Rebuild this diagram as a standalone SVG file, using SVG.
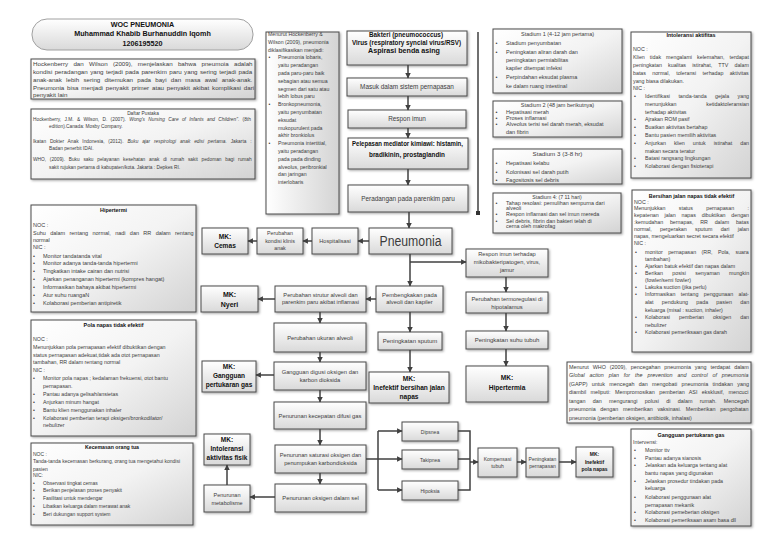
<svg xmlns="http://www.w3.org/2000/svg" width="768" height="544" viewBox="0 0 768 544">
<defs>
<linearGradient id="gv" x1="0" y1="0" x2="0" y2="1"><stop offset="0" stop-color="#ffffff"/><stop offset="1" stop-color="#d9d9d9"/></linearGradient>
<linearGradient id="gd" x1="0" y1="0" x2="1" y2="1"><stop offset="0" stop-color="#ffffff"/><stop offset="0.5" stop-color="#f3f3f3"/><stop offset="1" stop-color="#d3d3d3"/></linearGradient>
<linearGradient id="gh" x1="0" y1="0" x2="1" y2="0"><stop offset="0" stop-color="#ffffff"/><stop offset="1" stop-color="#d4d4d4"/></linearGradient>
<filter id="sh" x="-10%" y="-10%" width="130%" height="130%"><feDropShadow dx="1.2" dy="1.2" stdDeviation="0.8" flood-color="#000" flood-opacity="0.35"/></filter>
<marker id="ah" viewBox="0 0 10 10" refX="9" refY="5" markerWidth="5.5" markerHeight="5.5" markerUnits="userSpaceOnUse" orient="auto"><path d="M0,0L10,5L0,10z" fill="#404040"/></marker>
</defs>
<style>
.b{fill:url(#gv);stroke:#4a4a4a;stroke-width:1;filter:url(#sh)}
.p{fill:url(#gd);stroke:#4a4a4a;stroke-width:1;filter:url(#sh)}
.t{font-family:"Liberation Sans",Arial,sans-serif;fill:#3c3c3c}
.c{text-anchor:middle}
.e{text-anchor:end}
.k{font-weight:bold;fill:#111}
.i{font-style:italic}
.cn path{fill:none;stroke:#404040;stroke-width:1.5}
.a{marker-end:url(#ah)}
</style>
<rect width="768" height="544" fill="#ffffff"/>

<g id="title">
<rect x="32" y="19" width="221" height="31" rx="15" fill="url(#gv)" stroke="#a0a0a0" stroke-width="1"/>
<text class="t c k" font-size="7.2" x="142.5" y="26.5">WOC PNEUMONIA</text>
<text class="t c k" font-size="7.2" x="142.5" y="36">Muhammad Khabib Burhanuddin Iqomh</text>
<text class="t c k" font-size="7.2" x="142.5" y="45.5">1206195520</text>
</g>

<g id="definisi">
<rect class="p" x="31" y="59" width="224" height="40"/>
<text class="t" font-size="6.2" x="33" y="65.5" word-spacing="3.6">Hockenberry dan Wilson (2009), menjelaskan bahwa pneumoia adalah</text>
<text class="t" font-size="6.2" x="33" y="73.5" word-spacing="0.7">kondisi peradangan yang terjadi pada parenkim paru yang sering terjadi pada</text>
<text class="t" font-size="6.2" x="33" y="81.5" word-spacing="2.5">anak-anak lebih sering ditemukan pada bayi dan masa awal anak-anak.</text>
<text class="t" font-size="6.2" x="33" y="89.5" word-spacing="1.1">Pneumonia bisa menjadi penyakit primer atau penyakit akibat komplikasi dari</text>
<text class="t" font-size="6.2" x="33" y="97">penyakit lain</text>
</g>

<g id="pustaka">
<rect class="p" x="31" y="109" width="224" height="70"/>
<text class="t c" font-size="4.8" x="143" y="115">Daftar Pustaka</text>
<text class="t" font-size="4.8" x="33" y="121" word-spacing="2">Hockenberry, J.M. &amp; Wilson, D. (2007). <tspan class="i">Wong's Nursing Care of Infants and Children".</tspan> (8th</text>
<text class="t" font-size="4.8" x="49" y="128">edition).Canada: Mosby Company.</text>
<text class="t" font-size="4.8" x="33" y="143" word-spacing="2.5">Ikatan Dokter Anak Indonesia, (2012). <tspan class="i">Buku ajar respirologi anak edisi pertama.</tspan> Jakarta :</text>
<text class="t" font-size="4.8" x="49" y="149.5">Badan penerbit IDAI.</text>
<text class="t" font-size="4.8" x="33" y="161" word-spacing="2.4">WHO, (2009). Buku saku pelayanan kesehatan anak di rumah sakit pedoman bagi rumah</text>
<text class="t" font-size="4.8" x="49" y="168.5">sakit rujukan pertama di kabupaten/kota. Jakarta : Depkes RI.</text>
</g>

<g id="klasifikasi">
<rect x="266" y="32" width="73" height="182" fill="url(#gh)" stroke="#4a4a4a" stroke-width="1" filter="url(#sh)"/>
<text class="t" font-size="5.2">
<tspan x="268" y="36">Menurut Hockenberry &amp;</tspan>
<tspan x="268" y="43.8">Wilson (2009), pneumonia</tspan>
<tspan x="268" y="51.6">diklasifikasikan menjadi:</tspan>
<tspan x="268.5" y="59.4">•</tspan><tspan x="278" y="59.4">Pneumonia lobaris,</tspan>
<tspan x="278" y="67.2">yaitu peradangan</tspan>
<tspan x="278" y="75">pada paru-paru baik</tspan>
<tspan x="278" y="82.8">sebagian atau semua</tspan>
<tspan x="278" y="90.6">segmen dari satu atau</tspan>
<tspan x="278" y="98.4">lebih lobus paru</tspan>
<tspan x="268.5" y="106.2">•</tspan><tspan x="278" y="106.2">Bronkopneumonia,</tspan>
<tspan x="278" y="114">yaitu penyumbatan</tspan>
<tspan x="278" y="121.8">eksudat</tspan>
<tspan x="278" y="129.6">mukopurulent pada</tspan>
<tspan x="278" y="137.4">akhir bronkiolus</tspan>
<tspan x="268.5" y="145.2">•</tspan><tspan x="278" y="145.2">Pneumonia intertitial,</tspan>
<tspan x="278" y="153">yaitu peradangan</tspan>
<tspan x="278" y="160.8">pada pada dinding</tspan>
<tspan x="278" y="168.6">alveolus, peribronkial</tspan>
<tspan x="278" y="176.4">dan jaringan</tspan>
<tspan x="278" y="184.2">interlobaris</tspan>
</text>
</g>

<g id="n-bakteri">
<rect class="b" x="347" y="31" width="120" height="34"/>
<text class="t k" font-size="6.3" x="369" y="37" textLength="74" lengthAdjust="spacingAndGlyphs">Bakteri (pneumococcus)</text>
<text class="t k" font-size="6.3" x="352" y="45" textLength="109" lengthAdjust="spacingAndGlyphs">Virus (respiratory syncial virus/RSV)</text>
<text class="t k" font-size="6.3" x="368" y="52.5" textLength="72" lengthAdjust="spacingAndGlyphs">Aspirasi benda asing</text>
</g>
<g id="n-masuk">
<rect class="b" x="347" y="78" width="120" height="18"/>
<text class="t c" font-size="6.4" x="407" y="89.3">Masuk dalam sistem pernapasan</text>
</g>
<g id="n-respon">
<rect class="b" x="348" y="110" width="118" height="18"/>
<text class="t c" font-size="6.4" x="407" y="121.3">Respon imun</text>
</g>
<g id="n-pelepasan">
<rect class="b" x="348" y="138" width="120" height="31"/>
<text class="t k" font-size="6.5" x="352" y="145.5" textLength="111" lengthAdjust="spacingAndGlyphs">Pelepasan mediator kimiawi: histamin,</text>
<text class="t k" font-size="6.5" x="369" y="156.5" textLength="76" lengthAdjust="spacingAndGlyphs">bradikinin, prostaglandin</text>
</g>
<g id="n-peradangan">
<rect class="b" x="348" y="185" width="120" height="27"/>
<text class="t c" font-size="6.4" x="408" y="200.5">Peradangan pada parenkim paru</text>
</g>
<g id="divider">
<path d="M478,32V212" fill="none" stroke="#404040" stroke-width="1.5"/>
<rect x="476" y="211" width="4" height="4" fill="#333"/>
</g>
<g id="n-pneumonia">
<rect class="b" x="369" y="228" width="83" height="26"/>
<text class="t" font-size="14" x="379.5" y="246" textLength="62" lengthAdjust="spacingAndGlyphs" fill="#222">Pneumonia</text>
</g>
<g id="n-hospitalisasi">
<rect class="b" x="312" y="228" width="46" height="26"/>
<text class="t c" font-size="5.6" x="335" y="243">Hospitalisasi</text>
</g>
<g id="n-kondisi">
<rect class="b" x="257" y="228" width="46" height="26"/>
<text class="t c" font-size="5.3" x="280" y="235">Perubahan</text>
<text class="t c" font-size="5.3" x="280" y="242.5">kondisi klinis</text>
<text class="t c" font-size="5.3" x="280" y="250">anak</text>
</g>
<g id="mk-cemas">
<rect class="b" x="202" y="228" width="46" height="26"/>
<text class="t c k" font-size="6.6" x="225" y="239">MK:</text>
<text class="t c k" font-size="6.6" x="225" y="248">Cemas</text>
</g>
<g id="n-respon-imun-terhadap">
<rect class="b" x="466" y="249" width="82" height="28"/>
<text class="t c" font-size="5.7" x="507" y="256">Respon imun terhadap</text>
<text class="t c" font-size="5.7" x="507" y="263.5">mikobakteripatogen, virus,</text>
<text class="t c" font-size="5.7" x="507" y="271.5">jamur</text>
</g>
<g id="n-termoregulasi">
<rect class="b" x="466" y="292" width="82" height="21"/>
<text class="t c" font-size="5.8" x="507" y="301">Perubahan termoregulasi di</text>
<text class="t c" font-size="5.8" x="507" y="308.5">hipotalamus</text>
</g>
<g id="n-suhu">
<rect class="b" x="466" y="331" width="82" height="18"/>
<text class="t c" font-size="6" x="507" y="342">Peningkatan suhu tubuh</text>
</g>
<g id="mk-hipertermia">
<rect class="b" x="466" y="366" width="82" height="36"/>
<text class="t c k" font-size="6.6" x="507" y="380">MK:</text>
<text class="t c k" font-size="6.6" x="507" y="389.5">Hipertermia</text>
</g>
<g id="n-pembengkakan">
<rect class="b" x="376" y="286" width="67" height="26"/>
<text class="t c" font-size="5.8" x="409.5" y="296.5">Pembengkakan pada</text>
<text class="t c" font-size="5.8" x="409.5" y="304">alveoli dan kapiler</text>
</g>
<g id="n-strutur">
<rect class="b" x="275" y="286" width="91" height="26"/>
<text class="t c" font-size="5.7" x="320.5" y="296.5">Perubahan strutur alveoli dan</text>
<text class="t c" font-size="5.7" x="320.5" y="304">parenkim paru akibat inflamasi</text>
</g>
<g id="mk-nyeri">
<rect class="b" x="201" y="286" width="57" height="26"/>
<text class="t c k" font-size="7" x="229.5" y="297">MK:</text>
<text class="t c k" font-size="7" x="229.5" y="306.5">Nyeri</text>
</g>
<g id="n-ukuran">
<rect class="b" x="274" y="323" width="92" height="29"/>
<text class="t c" font-size="5.8" x="320" y="339.5">Perubahan ukuran alveoli</text>
</g>
<g id="n-difusi">
<rect class="b" x="274" y="362" width="92" height="28"/>
<text class="t c" font-size="5.8" x="320" y="374">Gangguan digusi oksigen dan</text>
<text class="t c" font-size="5.8" x="320" y="381.5">karbon dioksida</text>
</g>
<g id="mk-gangguan">
<rect class="b" x="202" y="361" width="54" height="31"/>
<text class="t c k" font-size="6.5" x="229" y="368.5">MK:</text>
<text class="t c k" font-size="6.5" x="229" y="377.5">Gangguan</text>
<text class="t c k" font-size="6.5" x="229" y="386.5">pertukaran gas</text>
</g>
<g id="n-kecepatan">
<rect class="b" x="274" y="402" width="92" height="27"/>
<text class="t c" font-size="5.8" x="320" y="417.5">Penurunan kecepatan difusi gas</text>
</g>
<g id="n-saturasi">
<rect class="b" x="275" y="445" width="91" height="28"/>
<text class="t c" font-size="5.7" x="320.5" y="456.5">Penurunan saturasi oksigen dan</text>
<text class="t c" font-size="5.7" x="320.5" y="464.5">penumpukan karbondioksida</text>
</g>
<g id="n-oksigen-sel">
<rect class="b" x="275" y="484" width="91" height="28"/>
<text class="t c" font-size="5.8" x="320.5" y="500">Penurunan oksigen dalam sel</text>
</g>
<g id="n-metabolisme">
<rect class="b" x="204" y="485" width="46" height="27"/>
<text class="t c" font-size="5.5" x="227" y="496.5">Penurunan</text>
<text class="t c" font-size="5.5" x="227" y="504.5">metabolisme</text>
</g>
<g id="mk-intoleransi">
<rect class="b" x="204" y="434" width="46" height="31"/>
<text class="t c k" font-size="6.5" x="227" y="441.5">MK:</text>
<text class="t c k" font-size="6.5" x="227" y="450.5">Intoleransi</text>
<text class="t c k" font-size="6.5" x="227" y="459.5">aktivitas fisik</text>
</g>
<g id="n-sputum">
<rect class="b" x="378" y="332" width="64" height="18"/>
<text class="t c" font-size="6" x="410" y="343">Peningkatan sputum</text>
</g>
<g id="mk-bersihan">
<rect class="b" x="369" y="372" width="80" height="31"/>
<text class="t c k" font-size="6.6" x="409" y="381">MK:</text>
<text class="t c k" font-size="6.6" x="409" y="390">Inefektif bersihan jalan</text>
<text class="t c k" font-size="6.6" x="409" y="399">napas</text>
</g>
<g id="n-dipsnea">
<rect class="b" x="402" y="422" width="56" height="19"/>
<text class="t c" font-size="5" x="430" y="433.5">Dipsnea</text>
</g>
<g id="n-takipnea">
<rect class="b" x="402" y="450" width="56" height="19"/>
<text class="t c" font-size="5" x="430" y="461.5">Takipnea</text>
</g>
<g id="n-hipoksia">
<rect class="b" x="402" y="481" width="56" height="19"/>
<text class="t c" font-size="5" x="430" y="492.5">Hipoksia</text>
</g>
<g id="n-kompensasi">
<rect class="b" x="478" y="448" width="39" height="29"/>
<text class="t c" font-size="5" x="497.5" y="460.5">Kompensasi</text>
<text class="t c" font-size="5" x="497.5" y="468">tubuh</text>
</g>
<g id="n-pernapasan">
<rect class="b" x="526" y="448" width="33" height="29"/>
<text class="t c" font-size="5" x="542.5" y="460.5">Peningkatan</text>
<text class="t c" font-size="5" x="542.5" y="468">pernapasan</text>
</g>
<g id="mk-pola">
<rect class="b" x="576" y="447" width="37" height="30"/>
<text class="t c k" font-size="5" x="594.5" y="456">MK:</text>
<text class="t c k" font-size="5" x="594.5" y="463.5">Inefektif</text>
<text class="t c k" font-size="5" x="594.5" y="471">pola napas</text>
</g>

<g id="stadium1">
<rect class="p" x="493" y="29" width="129" height="64"/>
<text class="t c" font-size="5.5" x="557.5" y="35.5">Stadium 1 (4-12 jam pertama)</text>
<text class="t" font-size="5.5">
<tspan x="495.5" y="45">•</tspan><tspan x="506" y="45">Stadium penyumbatan</tspan>
<tspan x="495.5" y="54">•</tspan><tspan x="506" y="54">Peningkatan aliran darah dan</tspan>
<tspan x="506" y="62">peningkatan permiabilitas</tspan>
<tspan x="506" y="70">kapiler ditempat infeksi</tspan>
<tspan x="495.5" y="79">•</tspan><tspan x="506" y="79">Perpindahan eksudat plasma</tspan>
<tspan x="506" y="87.5">ke dalam ruang intestinal</tspan>
</text>
</g>
<g id="stadium2">
<rect class="p" x="493" y="101" width="129" height="36"/>
<text class="t c" font-size="5.5" x="557.5" y="107">Stadium 2 (48 jam berikutnya)</text>
<text class="t" font-size="5.5">
<tspan x="495.5" y="114">•</tspan><tspan x="506" y="114">Hepatisasi merah</tspan>
<tspan x="495.5" y="119.5">•</tspan><tspan x="506" y="119.5">Proses inflamasi</tspan>
<tspan x="495.5" y="126">•</tspan><tspan x="506" y="126">Alveolus terisi sel darah merah, eksudat</tspan>
<tspan x="506" y="133.5">dan fibrin</tspan>
</text>
</g>
<g id="stadium3">
<rect class="p" x="493" y="149" width="129" height="35"/>
<text class="t c" font-size="6.2" x="557.5" y="156">Stadium 3 (3-8 hr)</text>
<text class="t" font-size="5.5">
<tspan x="495.5" y="165">•</tspan><tspan x="506" y="165">Hepatisasi kelabu</tspan>
<tspan x="495.5" y="174">•</tspan><tspan x="506" y="174">Kolonisasi sel darah putih</tspan>
<tspan x="495.5" y="181.5">•</tspan><tspan x="506" y="181.5">Fagositosis sel debris</tspan>
</text>
</g>
<g id="stadium4">
<rect class="p" x="493" y="193" width="128" height="40"/>
<text class="t c" font-size="5.2" x="557" y="198.5">Stadium 4: (7 11 hari)</text>
<text class="t" font-size="5.4">
<tspan x="495.5" y="204.5">•</tspan><tspan x="506" y="204.5">Tahap resolasi: pemulihan sempurna dari</tspan>
<tspan x="506" y="209.5">alveoli</tspan>
<tspan x="495.5" y="216">•</tspan><tspan x="506" y="216">Respon inflamasi dan sel imun mereda</tspan>
<tspan x="495.5" y="222.5">•</tspan><tspan x="506" y="222.5">Sel debris, fibrin dan bakteri telah di</tspan>
<tspan x="506" y="227.5">cerna oleh makrofag</tspan>
</text>
</g>

<g id="intoleransi">
<rect class="p" x="631" y="32" width="120" height="146"/>
<text class="t c k" font-size="5.4" x="691" y="37">Intoleransi aktifitas</text>
<text class="t" font-size="5.3" x="633" y="51">NOC :</text>
<text class="t" font-size="5.3" x="633" y="59" word-spacing="3.6">Klien tidak mengalami kelemahan, terdapat</text>
<text class="t" font-size="5.3" x="633" y="67" word-spacing="4.7">peningkatan kualitas istirahat, TTV dalam</text>
<text class="t" font-size="5.3" x="633" y="75" word-spacing="4.8">batas normal, toleransi terhadap aktivitas</text>
<text class="t" font-size="5.3" x="633" y="82.5">yang biasa dilakukan.</text>
<text class="t" font-size="5.3" x="633" y="89.5">NIC :</text>
<text class="t" font-size="5.3"><tspan x="634" y="98">•</tspan><tspan x="634" y="121">•</tspan><tspan x="634" y="129">•</tspan><tspan x="634" y="137">•</tspan><tspan x="634" y="145">•</tspan><tspan x="634" y="160">•</tspan><tspan x="634" y="168">•</tspan></text>
<text class="t" font-size="5.3" x="645" y="98" word-spacing="6.9">Identifikasi tanda-tanda gejala yang</text>
<text class="t" font-size="5.3" x="645" y="106">menunjukkan</text>
<text class="t e" font-size="5.3" x="749" y="106">ketidaktoleransian</text>
<text class="t" font-size="5.3" x="645" y="114">terhadap aktivitas</text>
<text class="t" font-size="5.3" x="645" y="121">Ajrakan ROM pasif</text>
<text class="t" font-size="5.3" x="645" y="129">Buatkan aktivitas bertahap</text>
<text class="t" font-size="5.3" x="645" y="137">Bantu pasien memilih aktivitas</text>
<text class="t" font-size="5.3" x="645" y="145" word-spacing="6.5">Anjurkan klien untuk istirahat dan</text>
<text class="t" font-size="5.3" x="645" y="153">makan secara teratur</text>
<text class="t" font-size="5.3" x="645" y="160">Batasi rangsang lingkungan</text>
<text class="t" font-size="5.3" x="645" y="168">Kolaborasi dengan fisioterapi</text>
</g>

<g id="bersihan">
<rect class="p" x="632" y="190" width="119" height="162"/>
<text class="t c k" font-size="5.4" x="691.5" y="198">Bersihan jalan napas tidak efektif</text>
<text class="t" font-size="5.3" x="634" y="203.5">NOC :</text>
<text class="t" font-size="5.3" x="634" y="210" word-spacing="11.8">Menunjukkan status pernapasan :</text>
<text class="t" font-size="5.3" x="634" y="217" word-spacing="4.3">kepatenan jalan napas dibuktikan dengan</text>
<text class="t" font-size="5.3" x="634" y="224" word-spacing="5.3">:kemudahan bernapas, RR dalam batas</text>
<text class="t" font-size="5.3" x="634" y="231" word-spacing="6.8">normal, pergerakan sputum dari jalan</text>
<text class="t" font-size="5.3" x="634" y="238">napas, mengeluarkan secret secara efektif</text>
<text class="t" font-size="5.3" x="634" y="245">NIC :</text>
<text class="t" font-size="5.3"><tspan x="635" y="253.5">•</tspan><tspan x="635" y="268">•</tspan><tspan x="635" y="275">•</tspan><tspan x="635" y="289">•</tspan><tspan x="635" y="296">•</tspan><tspan x="635" y="319">•</tspan><tspan x="635" y="333.5">•</tspan></text>
<text class="t" font-size="5.3" x="645" y="253.5" word-spacing="4">monitor pernapasan (RR, Pola, suara</text>
<text class="t" font-size="5.3" x="645" y="261">tambahan)</text>
<text class="t" font-size="5.3" x="645" y="268">Ajarkan batuk efektif dan napas dalam</text>
<text class="t" font-size="5.3" x="645" y="275" word-spacing="7.9">Berikan posisi senyaman mungkin</text>
<text class="t" font-size="5.3" x="645" y="282">(fowler/semi fowler)</text>
<text class="t" font-size="5.3" x="645" y="289">Lakuka suction (jika perlu)</text>
<text class="t" font-size="5.3" x="645" y="296" word-spacing="3.9">Informasikan tentang penggunaan alat-</text>
<text class="t" font-size="5.3" x="645" y="304" word-spacing="6.8">alat pendukung pada pasien dan</text>
<text class="t" font-size="5.3" x="645" y="311.5">keluarga (misal : suction, inhaler)</text>
<text class="t" font-size="5.3" x="645" y="319" word-spacing="7.5">Kolaborasi pemberian oksigen dan</text>
<text class="t" font-size="5.3" x="645" y="326.5">nebulizer</text>
<text class="t" font-size="5.3" x="645" y="333.5">Kolaborasi pemeriksaan gas darah</text>
</g>

<g id="who">
<rect class="p" x="567" y="362" width="184" height="61"/>
<text class="t" font-size="5.4" x="569" y="368.5" word-spacing="2.4">Menurut WHO (2009), pencegahan pneumonia yang terdapat dalam</text>
<text class="t i" font-size="5.4" x="569" y="377" word-spacing="3.4">Global action plan for the prevention and control of pneumonia</text>
<text class="t" font-size="5.4" x="569" y="385.5" word-spacing="2.8">(GAPP) untuk mencegah dan mengobati pneumonia tindakan yang</text>
<text class="t" font-size="5.4" x="569" y="394" word-spacing="2.9">diambil meliputi: Mempromosikan pemberian ASI eksklusif, mencuci</text>
<text class="t" font-size="5.4" x="569" y="402.5" word-spacing="5.8">tangan dan mengurangi polusi di dalam rumah. Mencegah</text>
<text class="t" font-size="5.4" x="569" y="411" word-spacing="3.2">pneumonia dengan memberikan vaksinasi. Memberikan pengobatan</text>
<text class="t" font-size="5.4" x="569" y="419.5">pneumonia (pemberian oksigen, antibiotik, inhalasi)</text>
</g>

<g id="gangguan-gas">
<rect class="p" x="631" y="429" width="120" height="97"/>
<text class="t c k" font-size="5.4" x="691" y="436.5">Gangguan  pertukaran gas</text>
<text class="t" font-size="5.3" x="633" y="443.5">Intervensi:</text>
<text class="t" font-size="5.3">
<tspan x="634" y="451.5">•</tspan><tspan x="645" y="451.5">Monitor ttv</tspan>
<tspan x="634" y="459.5">•</tspan><tspan x="645" y="459.5">Pantau adanya sianosis</tspan>
<tspan x="634" y="467">•</tspan><tspan x="645" y="467">Jelaskan ada keluarga tentang alat</tspan>
<tspan x="645" y="475">bantu napas yang digunakan</tspan>
<tspan x="634" y="482.5">•</tspan><tspan x="645" y="482.5">Jelaskan prosedur tindakan pada</tspan>
<tspan x="645" y="490">keluarga</tspan>
<tspan x="634" y="498.5">•</tspan><tspan x="645" y="498.5">Kolaborasi penggunaan alat</tspan>
<tspan x="645" y="506.5">pernapasan mekanik</tspan>
<tspan x="634" y="514">•</tspan><tspan x="645" y="514">Kolaborasi pemeberian oksigen</tspan>
<tspan x="634" y="522">•</tspan><tspan x="645" y="522">Kolaborasi pemeriksaan asam basa dll</tspan>
</text>
</g>

<g id="hipertermi">
<rect class="p" x="31" y="205" width="165" height="107"/>
<text class="t c k" font-size="5.4" x="113.5" y="211.5">Hipertermi</text>
<text class="t" font-size="5.5" x="33" y="226.5">NOC :</text>
<text class="t" font-size="5.5" x="33" y="234.5" word-spacing="2.8">Suhu dalam rentang normal, nadi dan RR dalam rentang</text>
<text class="t" font-size="5.5" x="33" y="241.5">normal</text>
<text class="t" font-size="5.5" x="33" y="249">NIC :</text>
<text class="t" font-size="5.5">
<tspan x="33" y="257.5">•</tspan><tspan x="43" y="257.5">Monitor tandatanda vital</tspan>
<tspan x="33" y="265">•</tspan><tspan x="43" y="265">Monitor adanya tanda-tanda hipertermi</tspan>
<tspan x="33" y="273">•</tspan><tspan x="43" y="273">Tingkatkan intake cairan dan nutrisi</tspan>
<tspan x="33" y="281">•</tspan><tspan x="43" y="281">Ajarkan penanganan hipertermi (kompres hangat)</tspan>
<tspan x="33" y="289">•</tspan><tspan x="43" y="289">Informasikan bahaya akibat hipertermi</tspan>
<tspan x="33" y="297">•</tspan><tspan x="43" y="297">Atur suhu ruangaN</tspan>
<tspan x="33" y="305">•</tspan><tspan x="43" y="305">Kolaborasi pemberian antipiretik</tspan>
</text>
</g>

<g id="pola-napas">
<rect class="p" x="31" y="320" width="165" height="116"/>
<text class="t c k" font-size="5.4" x="113.5" y="326.5">Pola napas tidak efektif</text>
<text class="t" font-size="5.3">
<tspan x="33" y="341">NOC :</tspan>
<tspan x="33" y="349">Menunjukkan pola pernapasan efektif dibuktikan dengan</tspan>
<tspan x="33" y="356.5">status pernapasan adekuat,tidak ada otot pernapasan</tspan>
<tspan x="33" y="364">tambahan, RR dalam rentang normal</tspan>
<tspan x="33" y="372">NIC :</tspan>
<tspan x="33" y="380">•</tspan><tspan x="43" y="380">Monitor pola napas ; kedalaman frekuensi, otot bantu</tspan>
<tspan x="43" y="388">pernapasan.</tspan>
<tspan x="33" y="395.5">•</tspan><tspan x="43" y="395.5">Pantau adanya gelisah/ansietas</tspan>
<tspan x="33" y="404">•</tspan><tspan x="43" y="404">Anjurkan minum hangat</tspan>
<tspan x="33" y="411.5">•</tspan><tspan x="43" y="411.5">Bantu klien menggunakan inhaler</tspan>
<tspan x="33" y="420">•</tspan><tspan x="43" y="420">Kolaborasi pemberian terapi oksigen/bronkodilator/</tspan>
<tspan x="43" y="427">nebulizer</tspan>
</text>
</g>

<g id="kecemasan">
<rect class="p" x="31" y="443" width="162" height="82"/>
<text class="t c k" font-size="5.2" x="112" y="448.5">Kecemasan orang tua</text>
<text class="t" font-size="5">
<tspan x="33" y="456">NOC :</tspan>
<tspan x="33" y="463">Tanda-tanda kecemasan berkurang, orang tua mengetahui kondisi</tspan>
<tspan x="33" y="470.5">pasien</tspan>
<tspan x="33" y="477">NIC:</tspan>
<tspan x="33" y="485">•</tspan><tspan x="43" y="485">Observasi tingkat cemas</tspan>
<tspan x="33" y="492">•</tspan><tspan x="43" y="492">Berikan penjelasan proses penyakit</tspan>
<tspan x="33" y="499.5">•</tspan><tspan x="43" y="499.5">Fasilitasi untuk mendengar</tspan>
<tspan x="33" y="508">•</tspan><tspan x="43" y="508">Libatkan keluarga dalam merawat anak</tspan>
<tspan x="33" y="516">•</tspan><tspan x="43" y="516">Beri dukungan support  system</tspan>
</text>
</g>

<g id="connectors" class="cn">
<path class="a" d="M408,65V78"/>
<path class="a" d="M408,96V110"/>
<path class="a" d="M408,128V138"/>
<path class="a" d="M408,169V185"/>
<path class="a" d="M409,212V228"/>
<path class="a" d="M369,241H358"/>
<path class="a" d="M312,241H303"/>
<path class="a" d="M257,241H248"/>
<path class="a" d="M410,254V286"/>
<path class="a" d="M410,262H466"/>
<path class="a" d="M506,277V292"/>
<path class="a" d="M506,313V331"/>
<path class="a" d="M506,349V366"/>
<path class="a" d="M376,299H366"/>
<path class="a" d="M275,299H258"/>
<path class="a" d="M320,312V323"/>
<path class="a" d="M320,352V362"/>
<path class="a" d="M274,375H256"/>
<path class="a" d="M320,390V402"/>
<path class="a" d="M320,429V445"/>
<path class="a" d="M320,473V484"/>
<path class="a" d="M275,497H250"/>
<path class="a" d="M227,485V465"/>
<path class="a" d="M410,312V332"/>
<path class="a" d="M410,350V372"/>
<path class="a" d="M366,459H402"/>
<path d="M378,431V490"/>
<path class="a" d="M378,431H402"/>
<path class="a" d="M378,490H402"/>
<path d="M458,431H470V490H458M458,459H470"/>
<path class="a" d="M470,462H478"/>
<path class="a" d="M517,462H526"/>
<path class="a" d="M559,462H576"/>
</g>
</svg>
